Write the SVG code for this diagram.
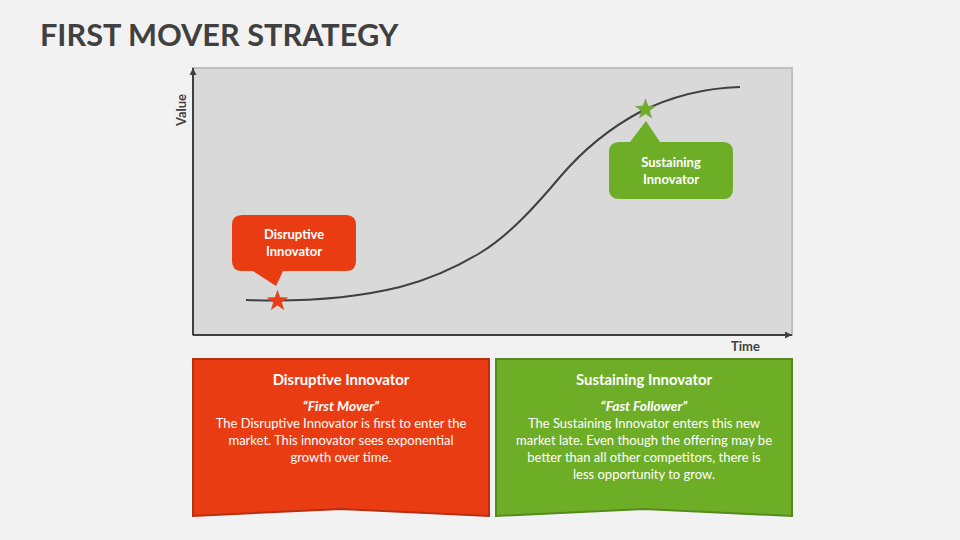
<svg xmlns="http://www.w3.org/2000/svg" width="960" height="540" viewBox="0 0 960 540">
<style>
text{font-family:"Lato","Open Sans","Liberation Sans",sans-serif;text-anchor:middle}
.lab{font-size:13px;font-weight:700;fill:#fff}
.ax{font-size:13px;font-weight:700;fill:#404040}
.body{font-size:13px;fill:#fff}
.h{font-size:14.9px;font-weight:700;fill:#fff}
.q{font-size:13.8px;font-weight:700;font-style:italic;fill:#fff}
</style>
<defs>
<marker id="arrow" markerUnits="userSpaceOnUse" markerWidth="8" markerHeight="8" refX="7" refY="3.5" orient="auto"><path d="M0 0L7 3.5L0 7z" fill="#404040"/></marker>
</defs>
<rect width="960" height="540" fill="#f2f2f2"/>
<text x="40" y="46" style="text-anchor:start;font-size:30.7px;font-weight:700;fill:#404040">FIRST MOVER STRATEGY</text>
<g id="plot"><rect x="193" y="68" width="599" height="267" fill="#d9d9d9" stroke="#bfbfbf" stroke-width="2"/></g>
<g id="connectors" fill="none">
<path d="M193 335V68" stroke="#404040" stroke-width="2" marker-end="url(#arrow)"/>
<path d="M193 335H792" stroke="#404040" stroke-width="2" marker-end="url(#arrow)"/>
<path d="M246 300C300 302 355 298 400 287C427 280 455 268 480 253C508 236 534 208 560 177C583 150 610 128 640 112C670 97 705 88 740 87" stroke="#404040" stroke-width="2"/>
</g>
<text class="ax" transform="translate(186 110) rotate(-90)">Value</text>
<text class="ax" x="745.500" y="351">Time</text>
<g id="disruptive-callout">
<path d="M242 215H346Q356 215 356 225V261Q356 271 346 271H283L276 286L253 271H242Q232 271 232 261V225Q232 215 242 215z" fill="#ea3c13"/>
<text class="lab" x="294" y="239">Disruptive</text>
<text class="lab" x="294" y="256">Innovator</text>
</g>
<g id="disruptive-star"><path d="M277.500 290.500L280 297.600L287.500 297.800L281.500 302.300L283.700 309.500L277.500 305.200L271.300 309.500L273.500 302.300L267.500 297.800L275 297.600z" fill="#ea3c13" stroke="#c9502f" stroke-width=".6"/></g>
<g id="sustaining-callout">
<path d="M620 142H630L646 121L660 142H723Q733 142 733 152V189Q733 199 723 199H620Q609 199 609 189V152Q609 142 620 142z" fill="#6eae27"/>
<text class="lab" x="671" y="167">Sustaining</text>
<text class="lab" x="671" y="184">Innovator</text>
</g>
<g id="sustaining-star"><path d="M645.500 99L648 106.100L655.500 106.300L649.500 110.800L651.700 118L645.500 113.700L639.300 118L641.500 110.800L635.500 106.300L643 106.100z" fill="#6eae27" stroke="#7ea35a" stroke-width=".6"/></g>
<g id="disruptive-card">
<path d="M193 359H489V516L341 509L193 516z" fill="#ea3c13" stroke="#b82f10" stroke-width="2"/>
<text class="h" x="341" y="385">Disruptive Innovator</text>
<text class="q" x="341" y="411">“First Mover”</text>
<text class="body" x="341" y="428">The Disruptive Innovator is first to enter the</text>
<text class="body" x="341" y="445">market. This innovator sees exponential</text>
<text class="body" x="341" y="462">growth over time.</text>
</g>
<g id="sustaining-card">
<path d="M496 359H792V516L644 509L496 516z" fill="#6eae27" stroke="#558a1e" stroke-width="2"/>
<text class="h" x="644" y="385">Sustaining Innovator</text>
<text class="q" x="644" y="411">“Fast Follower”</text>
<text class="body" x="644" y="428">The Sustaining Innovator enters this new</text>
<text class="body" x="644" y="445">market late. Even though the offering may be</text>
<text class="body" x="644" y="462">better than all other competitors, there is</text>
<text class="body" x="644" y="479">less opportunity to grow.</text>
</g>
</svg>
